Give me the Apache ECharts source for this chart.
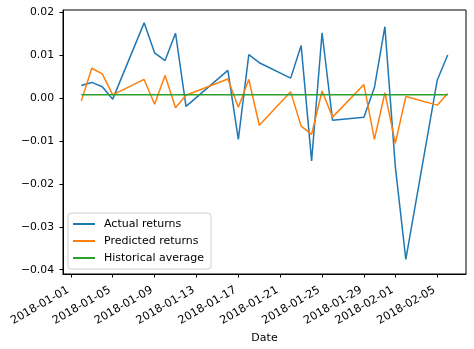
<!DOCTYPE html>
<html>
<head>
<meta charset="utf-8">
<script src="https://cdn.jsdelivr.net/npm/echarts@6/dist/echarts.min.js"></script>
<style>
  html, body { margin: 0; padding: 0; background: #fff; }
  #chart { width: 474px; height: 349px; }
</style>
</head>
<body>
<div id="chart"></div>
<script>
// Trading days, January–February 2018
const dates = [
  '2018-01-02', '2018-01-03', '2018-01-04', '2018-01-05',
  '2018-01-08', '2018-01-09', '2018-01-10', '2018-01-11', '2018-01-12',
  '2018-01-16', '2018-01-17', '2018-01-18', '2018-01-19',
  '2018-01-22', '2018-01-23', '2018-01-24', '2018-01-25', '2018-01-26',
  '2018-01-29', '2018-01-30', '2018-01-31', '2018-02-01', '2018-02-02',
  '2018-02-05', '2018-02-06'
];

const actualReturns = [
  0.0030, 0.0037, 0.0027, -0.0002,
  0.0176, 0.0106, 0.0088, 0.0152, -0.0019,
  0.0065, -0.0096, 0.0102, 0.0083,
  0.0047, 0.0123, -0.0146, 0.0153, -0.0051,
  -0.0044, 0.0025, 0.0167, -0.0160, -0.0376,
  0.0042, 0.0101
];

const predictedReturns = [
  -0.0006, 0.0070, 0.0057, 0.0008,
  0.0044, -0.0014, 0.0053, -0.0022, 0.0007,
  0.0045, -0.0021, 0.0044, -0.0063,
  0.0015, -0.0065, -0.0084, 0.0017, -0.0044,
  0.0032, -0.0096, 0.0013, -0.0105, 0.0004,
  -0.0016, 0.0011
];

const historicalAverage = [
  0.0008, 0.0008, 0.0008, 0.0008,
  0.0008, 0.0008, 0.0008, 0.0008, 0.0008,
  0.0008, 0.0008, 0.0008, 0.0008,
  0.0008, 0.0008, 0.0008, 0.0008, 0.0008,
  0.0008, 0.0008, 0.0008, 0.0008, 0.0008,
  0.0008, 0.0008
];

const xTickLabels = [
  '2018-01-01', '2018-01-05', '2018-01-09', '2018-01-13', '2018-01-17',
  '2018-01-21', '2018-01-25', '2018-01-29', '2018-02-01', '2018-02-05'
];

const yTicks = [-0.04, -0.03, -0.02, -0.01, 0.00, 0.01, 0.02];

// Parse 'YYYY-MM-DD' as a local-midnight timestamp
function ts(s) {
  const p = s.split('-').map(Number);
  return new Date(p[0], p[1] - 1, p[2]).getTime();
}
function pad(n) { return (n < 10 ? '0' : '') + n; }
function fmtDate(v) {
  const d = new Date(v);
  return d.getFullYear() + '-' + pad(d.getMonth() + 1) + '-' + pad(d.getDate());
}

const first = ts(dates[0]);
const last = ts(dates[dates.length - 1]);
const xPad = (last - first) * 0.05;

const pair = arr => dates.map((d, i) => [ts(d), arr[i]]);

const font = 'DejaVu Sans';
const chart = echarts.init(document.getElementById('chart'), null, { renderer: 'canvas' });

chart.setOption({
  animation: false,
  backgroundColor: '#ffffff',
  textStyle: { fontFamily: font },
  grid: {
    left: 63, right: 8, top: 10, bottom: 75,
    show: true, borderColor: '#000', borderWidth: 1, backgroundColor: 'transparent'
  },
  legend: {
    orient: 'vertical',
    left: 68, top: 213,
    padding: [5, 7, 5, 5],
    itemGap: 5,
    itemWidth: 22, itemHeight: 2,
    icon: 'rect',
    borderColor: '#d0d0d0', borderWidth: 1, borderRadius: 3,
    backgroundColor: 'rgba(255,255,255,0.8)',
    textStyle: { fontFamily: font, fontSize: 11, color: '#000', lineHeight: 12, padding: [0, 0, 0, 4] },
    data: ['Actual returns', 'Predicted returns', 'Historical average']
  },
  xAxis: {
    type: 'value',
    min: first - xPad,
    max: last + xPad,
    name: 'Date',
    nameLocation: 'middle',
    nameGap: 56,
    nameTextStyle: { fontFamily: font, fontSize: 11, color: '#000' },
    splitLine: { show: false },
    axisLine: { show: true, onZero: false, lineStyle: { color: '#000', width: 1 } },
    axisTick: {
      show: true, length: 3.5, lineStyle: { color: '#000' },
      customValues: xTickLabels.map(ts)
    },
    axisLabel: {
      rotate: 30, margin: 20,
      align: 'right', verticalAlign: 'bottom',
      fontFamily: font, fontSize: 11.2, color: '#000',
      customValues: xTickLabels.map(ts),
      formatter: v => fmtDate(v),
      hideOverlap: false
    }
  },
  yAxis: {
    type: 'value',
    min: -0.041,
    max: 0.0206,
    splitLine: { show: false },
    axisLine: { show: true, lineStyle: { color: '#000', width: 1 } },
    axisTick: {
      show: true, length: 3.5, lineStyle: { color: '#000' },
      customValues: yTicks
    },
    axisLabel: {
      margin: 9,
      fontFamily: font, fontSize: 10.8, color: '#000',
      customValues: yTicks,
      formatter: v => (v < 0 ? '\u2212' : '') + Math.abs(v).toFixed(2)
    }
  },
  series: [
    {
      name: 'Actual returns', type: 'line', data: pair(actualReturns),
      showSymbol: false, color: '#1f77b4',
      lineStyle: { width: 1.5, color: '#1f77b4' }
    },
    {
      name: 'Predicted returns', type: 'line', data: pair(predictedReturns),
      showSymbol: false, color: '#ff7f0e',
      lineStyle: { width: 1.5, color: '#ff7f0e' }
    },
    {
      name: 'Historical average', type: 'line', data: pair(historicalAverage),
      showSymbol: false, color: '#2ca02c',
      lineStyle: { width: 1.5, color: '#2ca02c' }
    }
  ]
});
</script>
</body>
</html>
